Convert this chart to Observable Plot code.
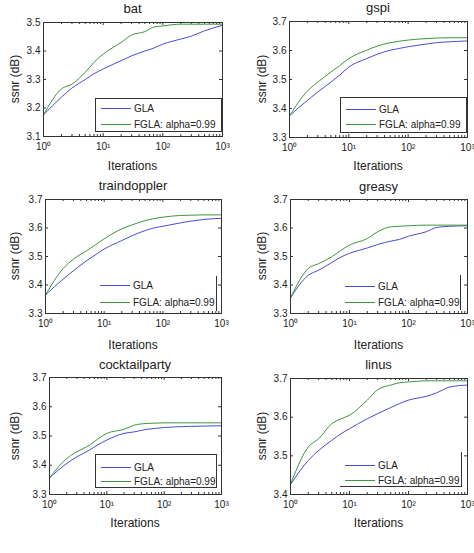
<!DOCTYPE html>
<html>
<head>
<meta charset="utf-8">
<script src="https://cdn.jsdelivr.net/npm/d3@7"></script>
<script src="https://cdn.jsdelivr.net/npm/@observablehq/plot@0.6"></script>
<style>
  html, body { margin:0; padding:0; background:#fff; }
  #root { position:relative; width:474px; height:553px; overflow:hidden; background:#fff;
          font-family:"Liberation Sans", Arial, Helvetica, sans-serif; color:#222; }
  .abs { position:absolute; }
  .title { font-size:13px; transform:translate(-50%,-50%); white-space:nowrap; }
  .xlab { font-size:12px; transform:translate(-50%,-50%); white-space:nowrap; }
  .ylab { font-size:12px; transform:translate(-50%,-50%) rotate(-90deg); white-space:nowrap; }
  .legend { box-sizing:border-box; font-size:10px; }
  .lrow { position:absolute; left:0; white-space:nowrap; }
  .lsw { position:absolute; height:0; border-top:1px solid; }
  .ltx { position:absolute; transform:translateY(-50%); }
</style>
</head>
<body>
<div id="root"></div>
<script>
// ---- data ----
const iterations = [1, 2, 3, 5, 7, 10, 20, 30, 50, 70, 100, 200, 300, 500, 1000];
const xTicks = [1, 10, 100, 1000];
const xTickLabels = ["10\u2070", "10\u00b9", "10\u00b2", "10\u00b3"];
const seriesNames = ["GLA", "FGLA: alpha=0.99"];
const panelTitles = ["bat", "gspi", "traindoppler", "greasy", "cocktailparty", "linus"];

const batGLA   = [3.176, 3.238, 3.270, 3.300, 3.320, 3.337, 3.366, 3.383, 3.400, 3.410, 3.424, 3.442, 3.452, 3.471, 3.490];
const batFGLA  = [3.176, 3.267, 3.284, 3.325, 3.360, 3.389, 3.430, 3.456, 3.468, 3.484, 3.488, 3.494, 3.494, 3.494, 3.494];
const gspiGLA  = [3.375, 3.428, 3.457, 3.491, 3.515, 3.543, 3.572, 3.587, 3.601, 3.607, 3.613, 3.622, 3.627, 3.630, 3.633];
const gspiFGLA = [3.375, 3.460, 3.491, 3.526, 3.548, 3.572, 3.601, 3.615, 3.627, 3.632, 3.636, 3.641, 3.643, 3.644, 3.644];
const trainGLA  = [3.365, 3.421, 3.450, 3.485, 3.505, 3.526, 3.556, 3.573, 3.591, 3.600, 3.606, 3.618, 3.624, 3.630, 3.634];
const trainFGLA = [3.365, 3.458, 3.491, 3.520, 3.540, 3.562, 3.597, 3.611, 3.626, 3.633, 3.638, 3.644, 3.645, 3.646, 3.646];
const greasyGLA  = [3.355, 3.434, 3.452, 3.479, 3.497, 3.511, 3.530, 3.542, 3.554, 3.560, 3.571, 3.587, 3.602, 3.606, 3.608];
const greasyFGLA = [3.355, 3.458, 3.475, 3.499, 3.520, 3.540, 3.563, 3.587, 3.604, 3.606, 3.608, 3.610, 3.610, 3.610, 3.610];
const cocktailGLA  = [3.357, 3.406, 3.429, 3.452, 3.470, 3.486, 3.509, 3.514, 3.523, 3.526, 3.529, 3.532, 3.533, 3.534, 3.535];
const cocktailFGLA = [3.357, 3.423, 3.446, 3.469, 3.490, 3.509, 3.523, 3.537, 3.543, 3.544, 3.545, 3.545, 3.545, 3.545, 3.545];
const linusGLA  = [3.426, 3.488, 3.514, 3.540, 3.556, 3.570, 3.596, 3.609, 3.625, 3.635, 3.644, 3.654, 3.663, 3.678, 3.683];
const linusFGLA = [3.426, 3.523, 3.544, 3.583, 3.595, 3.605, 3.644, 3.671, 3.683, 3.689, 3.691, 3.694, 3.694, 3.694, 3.694];

const yTicksBat   = [3.1, 3.2, 3.3, 3.4, 3.5];
const yTicksStd   = [3.3, 3.4, 3.5, 3.6, 3.7];
const yTicksLinus = [3.4, 3.5, 3.6, 3.7];

const colors = ["#4a4ad8", "#3e963e"];

// ---- layout ----
const panels = [
  {title:panelTitles[0], gla:batGLA, fgla:batFGLA, yd:[3.1,3.5], yt:yTicksBat,
   ox:0, oy:0, w:237, h:175, ml:43, mr:15, mt:22, mb:39, ty:8, xly:166, yx:15,
   leg:{l:95, t:98, w:127, h:34, rows:[9,25], b:"1111"}},
  {title:panelTitles[1], gla:gspiGLA, fgla:gspiFGLA, yd:[3.3,3.7], yt:yTicksStd,
   ox:237, oy:0, w:237, h:175, ml:52, mr:7, mt:21, mb:38, ty:7, xly:166, yx:262,
   leg:{l:340, t:97, w:127, h:36, rows:[11,26], b:"1111"}},
  {title:panelTitles[2], gla:trainGLA, fgla:trainFGLA, yd:[3.3,3.7], yt:yTicksStd,
   ox:0, oy:175, w:237, h:175, ml:45, mr:16, mt:24, mb:37, ty:185, xly:345, yx:15,
   leg:{l:95, t:276, w:122, h:35, rows:[9,26], b:"0100"}},
  {title:panelTitles[3], gla:greasyGLA, fgla:greasyFGLA, yd:[3.3,3.7], yt:yTicksStd,
   ox:237, oy:175, w:237, h:175, ml:53, mr:7, mt:24, mb:37, ty:186, xly:345, yx:262,
   leg:{l:340, t:275, w:121, h:35, rows:[11,27], b:"0100"}},
  {title:panelTitles[4], gla:cocktailGLA, fgla:cocktailFGLA, yd:[3.3,3.7], yt:yTicksStd,
   ox:0, oy:350, w:237, h:203, ml:49, mr:16, mt:27, mb:59, ty:364, xly:523, yx:15,
   leg:{l:95, t:454, w:122, h:34, rows:[12,26], b:"1111"}},
  {title:panelTitles[5], gla:linusGLA, fgla:linusFGLA, yd:[3.4,3.7], yt:yTicksLinus,
   ox:237, oy:350, w:237, h:203, ml:53, mr:7, mt:28, mb:59, ty:364, xly:523, yx:262,
   leg:{l:340, t:452, w:122, h:35, rows:[13,28], b:"0110"}}
];

const minorTicks = [];
for (let d = 1; d < 1000; d *= 10) for (let k = 2; k <= 9; k++) minorTicks.push(d * k);

const root = document.getElementById("root");

function addDiv(cls, text, x, y) {
  const el = document.createElement("div");
  el.className = "abs " + cls;
  el.textContent = text;
  el.style.left = x + "px";
  el.style.top = y + "px";
  root.appendChild(el);
  return el;
}

for (const p of panels) {
  const data = [];
  iterations.forEach((x, i) => {
    data.push({x, y: p.gla[i], s: seriesNames[0]});
    data.push({x, y: p.fgla[i], s: seriesNames[1]});
  });
  const pw = p.w - p.ml - p.mr, ph = p.h - p.mt - p.mb;
  const chart = Plot.plot({
    width: p.w, height: p.h,
    marginLeft: p.ml, marginRight: p.mr, marginTop: p.mt, marginBottom: p.mb,
    x: {type: "log", domain: [1, 1000]},
    y: {domain: p.yd},
    color: {domain: seriesNames, range: colors},
    style: {fontFamily: '"Liberation Sans", Arial, sans-serif', fontSize: "10px", color: "#222", background: "transparent", overflow: "visible"},
    marks: [
      Plot.axisY(p.yt, {tickSize: 0, tickPadding: 3, tickFormat: d => d.toFixed(1), label: null, fontSize: 10}),
      Plot.axisX(xTicks, {tickSize: 0, tickPadding: 6, tickFormat: (d, i) => xTickLabels[xTicks.indexOf(d)], label: null, fontSize: 10}),
      Plot.tickY(p.yt, {y: d => d, insetRight: pw - 3, stroke: "#333"}),
      Plot.tickY(p.yt, {y: d => d, insetLeft: pw - 3, stroke: "#333"}),
      Plot.tickX(xTicks, {x: d => d, insetTop: ph - 3, stroke: "#333"}),
      Plot.tickX(xTicks, {x: d => d, insetBottom: ph - 3, stroke: "#333"}),
      Plot.tickX(minorTicks, {x: d => d, insetTop: ph - 2, stroke: "#333"}),
      Plot.tickX(minorTicks, {x: d => d, insetBottom: ph - 2, stroke: "#333"}),
      Plot.line(data, {x: "x", y: "y", z: "s", stroke: "s", strokeWidth: 1, curve: "monotone-x"}),
      Plot.frame({stroke: "#333", strokeWidth: 1})
    ]
  });
  chart.style.position = "absolute";
  chart.style.left = p.ox + "px";
  chart.style.top = p.oy + "px";
  root.appendChild(chart);

  const cx = p.ox + p.ml + pw / 2;
  const cy = p.oy + p.mt + ph / 2;
  addDiv("title", p.title, cx, p.ty);
  addDiv("xlab", "Iterations", cx, p.xly);
  addDiv("ylab", "ssnr (dB)", p.yx, cy);

  // legend
  const L = p.leg;
  const box = document.createElement("div");
  box.className = "abs legend";
  box.style.left = L.l + "px"; box.style.top = L.t + "px";
  box.style.width = L.w + "px"; box.style.height = L.h + "px";
  box.style.background = "#fff";
  const sides = ["Top", "Right", "Bottom", "Left"];
  sides.forEach((s, i) => { if (L.b[i] === "1") box.style["border" + s] = "1px solid #333"; });
  seriesNames.forEach((name, i) => {
    const sw = document.createElement("div");
    sw.className = "lsw";
    sw.style.left = "5px"; sw.style.width = "30px"; sw.style.top = L.rows[i] + "px";
    sw.style.borderTopColor = colors[i];
    box.appendChild(sw);
    const tx = document.createElement("div");
    tx.className = "ltx";
    tx.style.left = "38px"; tx.style.top = L.rows[i] + "px";
    tx.textContent = name;
    box.appendChild(tx);
  });
  root.appendChild(box);
}
</script>
</body>
</html>
